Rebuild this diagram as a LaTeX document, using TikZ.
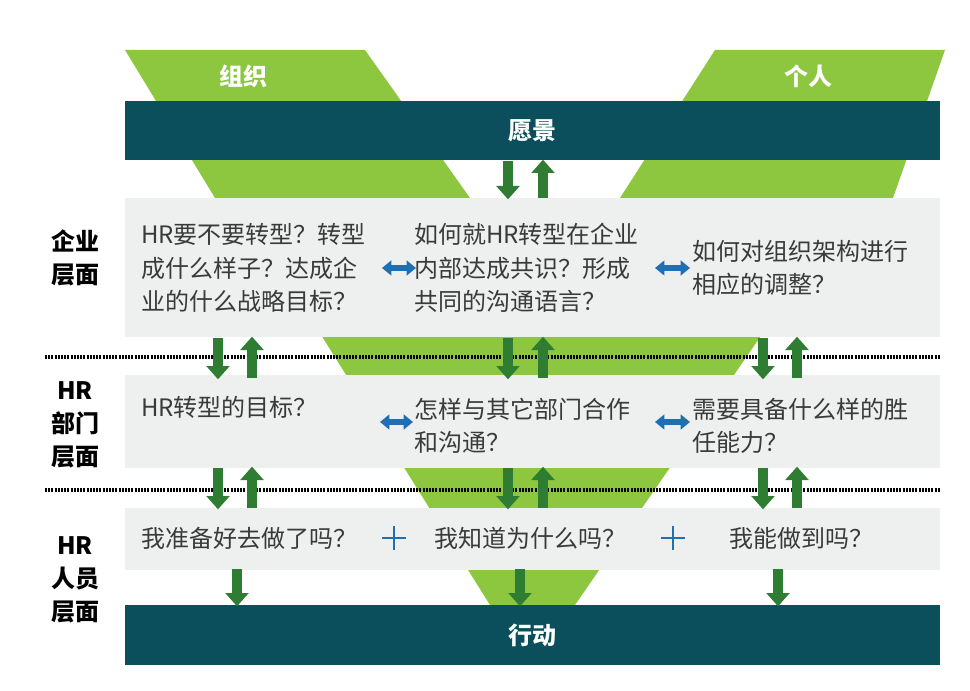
\documentclass[tikz,border=0pt]{standalone}
\usepackage{fontspec}
\setmainfont{Noto Sans CJK SC}
\usetikzlibrary{arrows.meta}
\definecolor{lg}{HTML}{8DC63F}
\definecolor{teal}{HTML}{0B4F5C}
\definecolor{gbox}{HTML}{EEEFEF}
\definecolor{ag}{HTML}{2F7D32}
\definecolor{bl}{HTML}{1F6FB5}
\definecolor{tx}{HTML}{3A3A3A}
\tikzset{
  bar/.style={fill=teal,draw=none},
  gb/.style={fill=gbox,draw=none},
  gr/.style={fill=lg,draw=none},
  wl/.style={text=white,font=\bfseries\fontsize{18}{20}\selectfont},
  body/.style={text=tx,font=\fontsize{18}{25}\selectfont,align=left,anchor=west,inner sep=0},
  side/.style={text=black,font=\bfseries\fontsize{18}{25}\selectfont,align=center,inner sep=0},
  garrow/.style={draw=ag,line width=7pt,-{Triangle[width=17pt,length=10pt]},shorten >=-1pt},
  barrow/.style={draw=bl,line width=5pt,{Triangle[width=11pt,length=7pt]}-{Triangle[width=11pt,length=7pt]}},
  dline/.style={draw=black,line width=2.4pt,dash pattern=on 1.5pt off 0.9pt},
  plus/.style={draw=bl,line width=1pt},
}
\begin{document}
\begin{tikzpicture}[x=0.75pt,y=-0.75pt]
\useasboundingbox (0,0) rectangle (970,691);
% green shapes
\fill[gr] (125,50) -- (365,50) -- (470,198) -- (215,198) -- cycle;
\fill[gr] (715,50) -- (945,50) -- (893,198) -- (620,198) -- cycle;
\fill[gr] (318,330) -- (765,330) -- (575,605) -- (490,605) -- cycle;
% bars
\node[bar,minimum width=815*0.75pt,minimum height=59*0.75pt,anchor=north west,inner sep=0] (vis) at (125,101) {};
\node[bar,minimum width=815*0.75pt,minimum height=60*0.75pt,anchor=north west,inner sep=0] (act) at (125,605) {};
% gray boxes
\fill[gb] (125,198) rectangle (940,337);
\fill[gb] (125,375) rectangle (940,468);
\fill[gb] (125,508) rectangle (940,570);
% dotted lines
\coordinate (d1a) at (45,357); \coordinate (d1b) at (940,357);
\coordinate (d2a) at (45,490); \coordinate (d2b) at (940,490);
\draw[dline] (d1a) -- (d1b);
\draw[dline] (d2a) -- (d2b);
% white labels
\node[wl] (org) at (243,76) {组织};
\node[wl] (ind) at (808,76) {个人};
\node[wl] at (vis) {愿景};
\node[wl] at (act) {行动};
% side labels
\node[side] (s1) at (75,258) {企业\\层面};
\node[side] (s2) at (75,425) {HR\\部门\\层面};
\node[side] (s3) at (75,580) {HR\\人员\\层面};
% texts
\node[body] (t11) at (141,268) {HR要不要转型？转型\\成什么样子？达成企\\业的什么战略目标？};
\node[body] (t12) at (414,268) {如何就HR转型在企业\\内部达成共识？形成\\共同的沟通语言？};
\node[body] (t13) at (692,268) {如何对组织架构进行\\相应的调整？};
\node[body,anchor=north west] (t21) at (141,396) {HR转型的目标？};
\node[body] (t22) at (414,426) {怎样与其它部门合作\\和沟通？};
\node[body] (t23) at (692,426) {需要具备什么样的胜\\任能力？};
\node[body] (t31) at (141,538) {我准备好去做了吗？};
\node[body] (t32) at (434,538) {我知道为什么吗？};
\node[body] (t33) at (729,538) {我能做到吗？};
% plus signs
\coordinate (p1) at (394,538); \coordinate (p2) at (673,538);
\draw[plus] ([xshift=-9pt]p1) -- ([xshift=9pt]p1) ([yshift=-9pt]p1) -- ([yshift=9pt]p1);
\draw[plus] ([xshift=-9pt]p2) -- ([xshift=9pt]p2) ([yshift=-9pt]p2) -- ([yshift=9pt]p2);
% blue double arrows
\coordinate (b1a) at (382,268); \coordinate (b1b) at (416,268);
\coordinate (b2a) at (655,268); \coordinate (b2b) at (690,268);
\coordinate (b3a) at (380,422); \coordinate (b3b) at (413,422);
\coordinate (b4a) at (655,422); \coordinate (b4b) at (690,422);
\draw[barrow] (b1a) -- (b1b);
\draw[barrow] (b2a) -- (b2b);
\draw[barrow] (b3a) -- (b3b);
\draw[barrow] (b4a) -- (b4b);
% green arrows
\foreach \x/\ya/\yb in {508/161/198, 218/338/378, 508/338/378, 763/338/378, 218/468/508, 508/468/508, 763/468/508, 237/569/605, 520/569/605, 778/569/605}{
  \coordinate (ga) at (\x,\ya); \coordinate (gz) at (\x,\yb);
  \draw[garrow] (ga) -- (gz);
}
\foreach \x/\ya/\yb in {543/198/161, 252/378/338, 543/378/338, 797/378/338, 252/508/468, 543/508/468, 797/508/468}{
  \coordinate (ga) at (\x,\ya); \coordinate (gz) at (\x,\yb);
  \draw[garrow] (ga) -- (gz);
}
\end{tikzpicture}
\end{document}
